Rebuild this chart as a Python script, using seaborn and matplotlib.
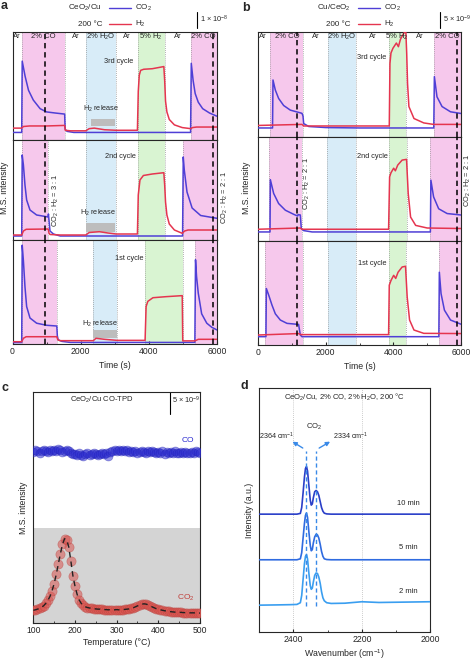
import matplotlib
matplotlib.use("Agg")
import matplotlib.pyplot as plt
import seaborn as sns
from matplotlib.lines import Line2D
from matplotlib.ticker import MultipleLocator

# ---- panel a : CeO2/Cu, three cycles (3rd on top) ----
A3_REGIONS = [(270, 1540, 'CO'), (2150, 3040, 'H2O'), (3670, 4460, 'H2'), (5230, 6100, 'CO')]
A2_REGIONS = [(270, 1050, 'CO'), (2150, 3040, 'H2O'), (3670, 4460, 'H2'), (4990, 6100, 'CO')]
A1_REGIONS = [(270, 1310, 'CO'), (2370, 3070, 'H2O'), (3900, 4990, 'H2'), (5350, 6100, 'CO')]

A3_T_CO2 = [0, 270, 285, 370, 470, 610, 810, 1000, 1250, 1530, 1545, 1600, 1800, 5225, 5245, 5300, 5360, 5450, 5580, 5780, 6000]
A3_CO2 = [0.07, 0.07, 0.73, 0.59, 0.46, 0.37, 0.29, 0.26, 0.25, 0.24, 0.10, 0.08, 0.07, 0.07, 0.71, 0.55, 0.43, 0.35, 0.29, 0.25, 0.22]
A3_T_H2 = [0, 270, 320, 500, 1000, 1530, 1550, 1700, 2150, 2250, 2400, 2700, 3040, 3665, 3690, 3720, 3760, 3850,
           4100, 4440, 4465, 4490, 4530, 4600, 4750, 4980, 5230, 5280, 5400, 6000]
A3_H2 = [0.11, 0.11, 0.125, 0.13, 0.13, 0.135, 0.09, 0.085, 0.085, 0.105, 0.11, 0.095, 0.09, 0.09, 0.45, 0.60, 0.645, 0.655,
         0.66, 0.68, 0.55, 0.36, 0.26, 0.19, 0.14, 0.115, 0.105, 0.115, 0.12, 0.12]

A2_T_CO2 = [0, 270, 285, 320, 366, 415, 513, 708, 1000, 1040, 1055, 1070, 1100, 1200, 1400, 4990, 5010, 5040, 5120, 5270, 5520, 6000]
A2_CO2 = [0.04, 0.04, 0.85, 0.75, 0.55, 0.40, 0.30, 0.25, 0.233, 0.23, 0.26, 0.20, 0.09, 0.06, 0.04, 0.04, 0.83, 0.70, 0.48, 0.32, 0.245, 0.217]
A2_T_H2 = [0, 270, 320, 400, 1050, 1070, 1100, 1400, 2150, 2250, 2550, 2800, 3040, 3665, 3690, 3740, 3840, 4100,
           4440, 4465, 4490, 4530, 4600, 4750, 4980, 5050, 5150, 6000]
A2_H2 = [0.05, 0.05, 0.09, 0.107, 0.11, 0.07, 0.055, 0.05, 0.05, 0.075, 0.083, 0.07, 0.06, 0.06, 0.45, 0.60, 0.645, 0.66,
         0.673, 0.55, 0.38, 0.25, 0.16, 0.10, 0.067, 0.09, 0.10, 0.10]

A1_T_CO2 = [0, 270, 285, 320, 366, 415, 513, 708, 1000, 1300, 1315, 1340, 1450, 1700, 5350, 5370, 5400, 5450, 5550, 5700, 5850, 6000]
A1_CO2 = [0.013, 0.013, 0.95, 0.80, 0.55, 0.36, 0.25, 0.20, 0.18, 0.173, 0.08, 0.04, 0.025, 0.015, 0.015, 0.81, 0.65, 0.49, 0.29, 0.20, 0.16, 0.135]
A1_T_H2 = [0, 270, 320, 400, 1300, 1330, 1400, 2370, 2450, 2700, 3070, 3890, 3920, 3970, 4120, 4500, 4980, 4995, 5100, 5350, 5450, 6000]
A1_H2 = [0.022, 0.022, 0.055, 0.07, 0.07, 0.04, 0.032, 0.032, 0.055, 0.045, 0.035, 0.035, 0.36, 0.41, 0.445, 0.455, 0.465, 0.03, 0.03, 0.03, 0.045, 0.045]

# grey "H2 release" boxes: (t0, t1, y0, y1) for 3rd, 2nd, 1st cycle
A_RELEASE = [(2300, 3010, 0.13, 0.195), (2150, 3010, 0.083, 0.167), (2370, 3070, 0.054, 0.135)]
A_RELEASE_TXT = [(2610, 0.29), (2515, 0.27), (2565, 0.19)]

# ---- panel b : Cu/CeO2 ----
B3_REGIONS = [(365, 1320, 'CO'), (2060, 2900, 'H2O'), (3880, 4385, 'H2'), (5190, 6100, 'CO')]
B2_REGIONS = [(335, 1300, 'CO'), (2040, 2905, 'H2O'), (3860, 4400, 'H2'), (5095, 6100, 'CO')]
B1_REGIONS = [(217, 1320, 'CO'), (2060, 2905, 'H2O'), (3860, 4385, 'H2'), (5340, 6100, 'CO')]

B3_T_CO2 = [0, 430, 443, 512, 610, 758, 955, 1250, 1300, 1330, 1350, 1500, 2000, 3000, 5195, 5213, 5290, 5440, 5690, 6000]
B3_CO2 = [0.086, 0.086, 0.543, 0.447, 0.367, 0.30, 0.256, 0.23, 0.225, 0.20, 0.128, 0.10, 0.09, 0.086, 0.086, 0.575, 0.383, 0.29, 0.24, 0.224]
B3_T_H2 = [0, 1300, 1350, 3880, 3900, 3930, 3990, 4090, 4150, 4210, 4310, 4370, 4395, 4420, 4460, 4610, 4900, 5190, 6000]
B3_H2 = [0.11, 0.12, 0.105, 0.105, 0.70, 0.80, 0.846, 0.895, 0.86, 0.93, 0.99, 1.0, 0.80, 0.51, 0.29, 0.176, 0.134, 0.12, 0.12]

B2_T_CO2 = [0, 355, 365, 463, 610, 808, 1053, 1171, 1185, 1250, 1280, 1350, 1600, 5095, 5110, 5190, 5340, 5590, 6000]
B2_CO2 = [0.087, 0.087, 0.59, 0.457, 0.36, 0.296, 0.257, 0.24, 0.254, 0.25, 0.119, 0.10, 0.087, 0.087, 0.585, 0.424, 0.31, 0.264, 0.25]
B2_T_H2 = [0, 1250, 1300, 3860, 3890, 3930, 4010, 4060, 4130, 4260, 4390, 4440, 4510, 4660, 5000, 6000]
B2_H2 = [0.113, 0.125, 0.113, 0.113, 0.617, 0.656, 0.70, 0.675, 0.73, 0.778, 0.785, 0.457, 0.23, 0.15, 0.125, 0.12]

B1_T_CO2 = [0, 235, 247, 316, 414, 512, 660, 857, 1200, 1250, 1300, 5345, 5360, 5410, 5510, 5690, 6000]
B1_CO2 = [0.08, 0.08, 0.543, 0.48, 0.383, 0.30, 0.24, 0.208, 0.198, 0.096, 0.08, 0.08, 0.70, 0.495, 0.335, 0.24, 0.20]
B1_T_H2 = [0, 1200, 1260, 3860, 3880, 3930, 4010, 4070, 4140, 4260, 4360, 4410, 4480, 4610, 4900, 6000]
B1_H2 = [0.096, 0.11, 0.10, 0.10, 0.575, 0.62, 0.67, 0.64, 0.70, 0.75, 0.757, 0.46, 0.24, 0.144, 0.112, 0.11]

GAS_LABELS = ['Ar', '2% CO', 'Ar', '2% H$_\\mathregular{2}$O', 'Ar', '5% H$_\\mathregular{2}$', 'Ar', '2% CO']
A_LABEL_T = [122, 905, 1850, 2600, 3365, 4060, 4840, 5610]
B_LABEL_T = [148, 857, 1714, 2480, 3400, 4090, 4780, 5607]
A_DASH = [950, 5880]
B_DASH = [1150, 5880]
CYCLES = ['3rd cycle', '2nd cycle', '1st cycle']
A_CYCLE_POS = [(3100, 0.73), (3180, 0.83), (3440, 0.82)]
B_CYCLE_POS = [(3370, 0.76), (3370, 0.81), (3370, 0.78)]

# ---- panel c : CO-TPD ----
TPD_TEMP = [100, 105, 110, 115, 120, 125, 130, 135, 140, 145, 150, 155, 160, 165, 170, 175, 180, 185, 190, 195,
            200, 205, 210, 215, 220, 225, 230, 235, 240, 245, 250, 255, 260, 265, 270, 275, 280, 285, 290, 295,
            300, 305, 310, 315, 320, 325, 330, 335, 340, 345, 350, 355, 360, 365, 370, 375, 380, 385, 390, 395,
            400, 405, 410, 415, 420, 425, 430, 435, 440, 445, 450, 455, 460, 465, 470, 475, 480, 485, 490, 495, 500]
TPD_CO = [0.742, 0.748, 0.745, 0.738, 0.744, 0.750, 0.746, 0.740, 0.747,
          0.743, 0.749, 0.745, 0.752, 0.748, 0.741, 0.746, 0.750, 0.744, 0.736, 0.733,
          0.730, 0.727, 0.734, 0.729, 0.725, 0.731, 0.735, 0.728, 0.732, 0.737, 0.730, 0.726, 0.733, 0.738, 0.731, 0.735, 0.722,
          0.740, 0.745, 0.748, 0.743, 0.750, 0.746, 0.749, 0.744, 0.747, 0.742,
          0.745, 0.740, 0.744, 0.738, 0.742, 0.746, 0.741, 0.737, 0.743, 0.739, 0.745, 0.740, 0.736, 0.742, 0.738, 0.744, 0.733,
          0.739, 0.735, 0.741, 0.737, 0.743, 0.738, 0.734, 0.740, 0.736, 0.742, 0.738, 0.735, 0.741, 0.737, 0.743, 0.739, 0.736]
TPD_CO2 = [0.055, 0.057, 0.060, 0.063, 0.068, 0.075, 0.085, 0.098, 0.115, 0.140, 0.170, 0.210, 0.255, 0.300, 0.340,
           0.365, 0.360, 0.330, 0.270, 0.205, 0.160, 0.125, 0.100, 0.085, 0.076, 0.070, 0.067, 0.065, 0.063, 0.062,
           0.061, 0.060, 0.060, 0.059, 0.058, 0.058, 0.057, 0.058, 0.057, 0.057, 0.058, 0.057, 0.058, 0.058, 0.059, 0.060, 0.061,
           0.063, 0.066, 0.070, 0.074, 0.078, 0.081, 0.083, 0.082, 0.079, 0.075, 0.070, 0.066, 0.062, 0.059,
           0.057, 0.055, 0.053, 0.052, 0.050, 0.049, 0.048, 0.047, 0.047, 0.046, 0.046, 0.045, 0.045, 0.045, 0.044,
           0.044, 0.044, 0.043, 0.043, 0.043]

# ---- panel d : DRIFTS spectra ----
WN = [2500, 2450, 2410, 2390, 2380, 2376, 2372, 2368, 2365, 2362, 2359, 2355, 2351, 2348, 2345, 2342, 2338, 2334,
      2330, 2326, 2322, 2318, 2314, 2310, 2303, 2290, 2250, 2200, 2150, 2100, 2050, 2000]
SPEC_10 = [0.483, 0.483, 0.483, 0.483, 0.486, 0.51, 0.57, 0.635, 0.67, 0.678, 0.66, 0.60, 0.54, 0.52, 0.525, 0.55, 0.575, 0.58,
           0.575, 0.56, 0.535, 0.51, 0.495, 0.487, 0.484, 0.483, 0.483, 0.483, 0.483, 0.483, 0.483, 0.483]
SPEC_5 = [0.296, 0.296, 0.296, 0.296, 0.30, 0.325, 0.385, 0.445, 0.478, 0.487, 0.47, 0.41, 0.355, 0.333, 0.338, 0.365, 0.39, 0.40,
          0.398, 0.385, 0.36, 0.33, 0.31, 0.30, 0.297, 0.296, 0.296, 0.296, 0.296, 0.296, 0.296, 0.296]
SPEC_2 = [0.110, 0.111, 0.112, 0.113, 0.12, 0.15, 0.215, 0.28, 0.31, 0.317, 0.30, 0.24, 0.19, 0.175, 0.18, 0.205, 0.232, 0.242,
          0.24, 0.225, 0.20, 0.165, 0.14, 0.128, 0.12, 0.117, 0.118, 0.124, 0.121, 0.122, 0.123, 0.124]
SPEC_NAMES = ['10 min', '5 min', '2 min']
SPEC_LABEL_Y = [0.528, 0.348, 0.166]
PEAKS = [2364, 2334]

CO2_COLOR = '#4f3fd6'
H2_COLOR = '#e5354f'
SHADE = {'CO': '#f6c8ec', 'H2O': '#d8ecf8', 'H2': '#d9f4d2'}
SPEC_COLORS = ['#2a3fc8', '#2f6be0', '#3a9ef0']

sns.set_style("ticks")
plt.rcParams['font.family'] = ['Liberation Sans', 'DejaVu Sans']
plt.rcParams['mathtext.fontset'] = 'custom'
plt.rcParams['mathtext.rm'] = 'Liberation Sans'
plt.rcParams['mathtext.it'] = 'Liberation Sans:italic'
plt.rcParams['axes.linewidth'] = 0.8

SUB2 = '$_\\mathregular{2}$'
W, H = 474, 664


def fx(px):
    return px / W


def fy(py):
    return 1 - py / H


fig = plt.figure(figsize=(4.74, 6.64), dpi=100)


def draw_cycle(ax, regions, t_co2, co2, t_h2, h2, dash):
    for start, end, gas in regions:
        ax.axvspan(start, end, color=SHADE[gas], lw=0, zorder=0)
        for edge in (start, end):
            ax.axvline(edge, color='#9a9a9a', ls=(0, (1, 1.5)), lw=0.6, zorder=1)
    for t in dash:
        ax.axvline(t, color='k', ls=(0, (3.5, 2.5)), lw=1.1, zorder=4)
    sns.lineplot(x=t_co2, y=co2, ax=ax, color=CO2_COLOR, lw=1.1, sort=False, estimator=None, zorder=3)
    sns.lineplot(x=t_h2, y=h2, ax=ax, color=H2_COLOR, lw=1.1, sort=False, estimator=None, zorder=3)
    ax.set_xlim(0, 6000)
    ax.set_ylim(0, 1)
    ax.set_yticks([])
    ax.set_ylabel('')
    ax.tick_params(bottom=False, labelbottom=False)


def cycle_panel(x0, x1, bounds, data, label_t, dash, cycle_pos):
    axes = []
    for i, (top, bot) in enumerate(zip(bounds[:-1], bounds[1:])):
        ax = fig.add_axes([fx(x0), fy(bot), fx(x1 - x0), (bot - top) / H])
        regions, t_co2, co2, t_h2, h2 = data[i]
        draw_cycle(ax, regions, t_co2, co2, t_h2, h2, dash)
        tx, ty = cycle_pos[i]
        ax.text(tx, ty, CYCLES[i], fontsize=5.3, ha='center', va='center')
        axes.append(ax)
    for lab, t in zip(GAS_LABELS, label_t):
        axes[0].text(t, 0.955, lab, fontsize=5.5, ha='center', va='center', zorder=5)
    bottom = axes[-1]
    bottom.tick_params(bottom=True, labelbottom=True, direction='in', length=2.5, labelsize=6.2, pad=2.5)
    bottom.tick_params(which='minor', direction='in', length=1.5)
    bottom.xaxis.set_major_locator(MultipleLocator(2000))
    bottom.xaxis.set_minor_locator(MultipleLocator(1000))
    bottom.set_xlabel('Time (s)', fontsize=6.3, labelpad=3)
    return axes


a_axes = cycle_panel(12.5, 217, [32, 140, 240, 344],
                     [(A3_REGIONS, A3_T_CO2, A3_CO2, A3_T_H2, A3_H2),
                      (A2_REGIONS, A2_T_CO2, A2_CO2, A2_T_H2, A2_H2),
                      (A1_REGIONS, A1_T_CO2, A1_CO2, A1_T_H2, A1_H2)],
                     A_LABEL_T, A_DASH, A_CYCLE_POS)
for ax, (t0, t1, y0, y1), (tx, ty) in zip(a_axes, A_RELEASE, A_RELEASE_TXT):
    ax.fill_between([t0, t1], y0, y1, color='#bdbdbd', lw=0, zorder=2)
    ax.text(tx, ty, 'H' + SUB2 + ' release', fontsize=5.3, ha='center', va='center')

b_axes = cycle_panel(258, 461, [32, 137, 241, 345],
                     [(B3_REGIONS, B3_T_CO2, B3_CO2, B3_T_H2, B3_H2),
                      (B2_REGIONS, B2_T_CO2, B2_CO2, B2_T_H2, B2_H2),
                      (B1_REGIONS, B1_T_CO2, B1_CO2, B1_T_H2, B1_H2)],
                     B_LABEL_T, B_DASH, B_CYCLE_POS)

ratio_a = 'CO' + SUB2 + ' : H' + SUB2 + ' = 3 : 1'
ratio_b = 'CO' + SUB2 + ' : H' + SUB2 + ' = 2 : 1'
fig.text(fx(56), fy(200), ratio_a, rotation=90, fontsize=5.3, ha='center', va='center')
fig.text(fx(225), fy(197), ratio_b, rotation=90, fontsize=5.3, ha='center', va='center')
fig.text(fx(307), fy(183), ratio_b, rotation=90, fontsize=5.3, ha='center', va='center')
fig.text(fx(468), fy(180), ratio_b, rotation=90, fontsize=5.3, ha='center', va='center')

fig.text(fx(5), fy(188), 'M.S. intensity', rotation=90, fontsize=6.3, ha='center', va='center')
fig.text(fx(247), fy(188), 'M.S. intensity', rotation=90, fontsize=6.3, ha='center', va='center')


def legend_block(xr, sample, scale_x, scale_txt):
    for row, (left, gas, col) in enumerate([(sample, 'CO' + SUB2, CO2_COLOR), ('200 °C', 'H' + SUB2, H2_COLOR)]):
        y = 8 + row * 16
        fig.text(fx(xr), fy(y), left, fontsize=5.8, ha='right', va='center')
        fig.add_artist(Line2D([fx(xr + 7), fx(xr + 29)], [fy(y), fy(y)], transform=fig.transFigure, color=col, lw=1))
        fig.text(fx(xr + 33), fy(y), gas, fontsize=5.8, ha='left', va='center')
    fig.add_artist(Line2D([fx(scale_x), fx(scale_x)], [fy(12), fy(28)], transform=fig.transFigure, color='k', lw=0.8))
    fig.text(fx(scale_x + 3), fy(19), scale_txt, fontsize=5.3, ha='left', va='center')


legend_block(102, 'CeO' + SUB2 + '/Cu', 197, '1 × 10$^\\mathregular{-8}$')
legend_block(351, 'Cu/CeO' + SUB2, 440, '5 × 10$^\\mathregular{-9}$')

# ---- panel c ----
axc = fig.add_axes([fx(33.3), fy(623), fx(200 - 33.3), (623 - 392) / H])
axc.axhspan(0, 0.413, color='#d4d4d4', lw=0, zorder=0)
sns.scatterplot(x=TPD_TEMP, y=TPD_CO, ax=axc, color='#2b2bd0', s=42, alpha=0.5, edgecolor='#2020b0', linewidth=0.4, zorder=3)
sns.scatterplot(x=TPD_TEMP, y=TPD_CO2, ax=axc, color='#d9544f', s=44, alpha=0.55, edgecolor='#b83a36', linewidth=0.4, zorder=3)
sns.lineplot(x=TPD_TEMP, y=TPD_CO2, ax=axc, color='#222222', lw=1.0, ls=(0, (4, 3)), sort=False, estimator=None, zorder=4)
axc.set_xlim(100, 500)
axc.set_ylim(0, 1)
axc.set_yticks([])
axc.xaxis.set_major_locator(MultipleLocator(100))
axc.xaxis.set_minor_locator(MultipleLocator(50))
axc.tick_params(direction='in', length=2.5, labelsize=6.2, pad=2.5)
axc.tick_params(which='minor', direction='in', length=1.5)
axc.set_xlabel('Temperature (°C)', fontsize=6.3, labelpad=2)
axc.set_ylabel('M.S. intensity', fontsize=6.3, labelpad=4)
axc.text(265, 0.965, 'CeO' + SUB2 + '/Cu CO-TPD', fontsize=5.5, ha='center', va='center')
axc.plot([428, 428], [0.906, 1.0], color='k', lw=0.8)
axc.text(433, 0.962, '5 × 10$^\\mathregular{-9}$', fontsize=5.3, ha='left', va='center')
axc.text(472, 0.79, 'CO', fontsize=6, color='#2b2bd0', ha='center', va='center')
axc.text(466, 0.11, 'CO' + SUB2, fontsize=6, color='#c0403c', ha='center', va='center')

# ---- panel d ----
axd = fig.add_axes([fx(259.3), fy(632), fx(430.3 - 259.3), (632 - 388) / H])
for spec, col in zip([SPEC_10, SPEC_5, SPEC_2], SPEC_COLORS):
    sns.lineplot(x=WN, y=spec, ax=axd, color=col, lw=1.2, sort=False, estimator=None, zorder=3)
for name, y in zip(SPEC_NAMES, SPEC_LABEL_Y):
    axd.text(2063, y, name, fontsize=5.5, ha='center', va='center')
for p in PEAKS:
    axd.plot([p, p], [0.105, 0.74], color='#3a8ae8', lw=1.0, ls=(0, (3, 2)), zorder=4)
axd.annotate('', xy=(2410, 0.786), xytext=(2366, 0.748),
             arrowprops=dict(arrowstyle='-|>', color='#3a8ae8', lw=1.0, mutation_scale=6))
axd.annotate('', xy=(2286, 0.786), xytext=(2332, 0.748),
             arrowprops=dict(arrowstyle='-|>', color='#3a8ae8', lw=1.0, mutation_scale=6))
axd.text(2449, 0.80, '2364 cm$^\\mathregular{-1}$', fontsize=5.2, ha='center', va='center')
axd.text(2232, 0.80, '2334 cm$^\\mathregular{-1}$', fontsize=5.2, ha='center', va='center')
axd.text(2339, 0.84, 'CO' + SUB2, fontsize=5.5, ha='center', va='center')
axd.text(2250, 0.962, 'CeO' + SUB2 + '/Cu, 2% CO, 2% H' + SUB2 + 'O, 200 °C', fontsize=5.5, ha='center', va='center')
axd.set_xlim(2500, 2000)
axd.set_ylim(0, 1)
axd.set_yticks([])
axd.xaxis.set_major_locator(MultipleLocator(200))
axd.xaxis.set_minor_locator(MultipleLocator(100))
axd.grid(axis='x', which='major', color='#bbbbbb', ls=(0, (1, 1.5)), lw=0.6)
axd.tick_params(direction='in', length=2.5, labelsize=6.2, pad=2.5)
axd.tick_params(which='minor', direction='in', length=1.5)
axd.set_xlabel('Wavenumber (cm$^\\mathregular{-1}$)', fontsize=6.3, labelpad=2)
axd.set_ylabel('Intensity (a.u.)', fontsize=6.3, labelpad=4)

# panel letters
for lab, x, y in [('a', 1, 0), ('b', 242, 2), ('c', 1, 382), ('d', 240, 380)]:
    fig.text(fx(x), fy(y), lab, fontsize=9, fontweight='bold', ha='left', va='top')

fig.savefig('out.png', dpi=100)
